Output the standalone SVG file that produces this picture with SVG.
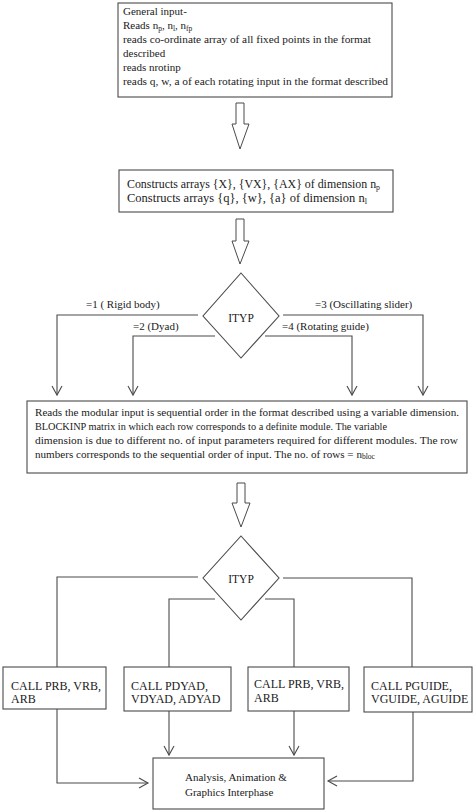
<svg xmlns="http://www.w3.org/2000/svg" width="474" height="812" viewBox="0 0 474 812">
<style>
.box{fill:#fff;stroke:#4a4a4a;stroke-width:1.1}
.ha{fill:#fff;stroke:#4a4a4a;stroke-width:1}
.ln{fill:none;stroke:#4a4a4a;stroke-width:1.1}
.t,.s,.m,.b{font-family:"Liberation Serif","Times New Roman",serif;fill:#1a1a1a}
.t{font-size:11px}
.m{font-size:11.5px}
.s{font-size:12px}
.sub{font-size:7.5px}
</style>
<defs>
<marker id="ah" markerUnits="userSpaceOnUse" markerWidth="12" markerHeight="12" viewBox="-10 -6 12 12" refX="0" refY="0" orient="auto" overflow="visible">
<path d="M-9,-5 L0,0 L-9,5" fill="none" stroke="#4a4a4a" stroke-width="1.1"/>
</marker>
</defs>
<rect width="474" height="812" fill="#fff"/>

<g id="general-input">
<rect class="box" x="118" y="3" width="274" height="94"/>
<text class="t" x="123" y="15">General input-</text>
<text class="t" x="123" y="29">Reads n<tspan class="sub" dy="2">p</tspan><tspan dy="-2">, n</tspan><tspan class="sub" dy="2">l</tspan><tspan dy="-2">, n</tspan><tspan class="sub" dy="2">fp</tspan></text>
<text class="t" x="123" y="43" textLength="248" lengthAdjust="spacingAndGlyphs">reads co-ordinate array of all fixed points in the format</text>
<text class="t" x="123" y="57">described</text>
<text class="t" x="123" y="71">reads nrotinp</text>
<text class="t" x="123" y="85" textLength="265" lengthAdjust="spacingAndGlyphs">reads q, w, a of each rotating input in the format described</text>
</g>

<g id="arrow-1"><polygon class="ha" points="236,103 244,103 244,124 249,124 240,149 232,124 236,124"/></g>

<g id="construct-arrays">
<rect class="box" x="119" y="170" width="274" height="42"/>
<text class="m" x="127" y="188" textLength="253" lengthAdjust="spacingAndGlyphs">Constructs arrays {X}, {VX}, {AX} of dimension n<tspan class="sub" dy="2">p</tspan></text>
<text class="m" x="127" y="202" textLength="240" lengthAdjust="spacingAndGlyphs">Constructs arrays {q}, {w}, {a} of dimension n<tspan class="sub" dy="2">l</tspan></text>
</g>

<g id="arrow-2"><polygon class="ha" points="236,219 244,219 244,241 249,241 240,264 232,241 236,241"/></g>

<g id="ityp-1">
<polygon class="box" points="241,273 279,316 241,358 203,316"/>
<text class="m" x="241" y="322" text-anchor="middle">ITYP</text>
</g>

<g id="modular-input">
<rect class="box" x="27" y="401" width="440" height="72"/>
<text class="t" x="35" y="416" textLength="424" lengthAdjust="spacingAndGlyphs">Reads the modular input is sequential order in the format described using a variable dimension.</text>
<text class="t" x="35" y="430" textLength="352" lengthAdjust="spacingAndGlyphs">BLOCKINP matrix in which each row corresponds to a definite module. The variable</text>
<text class="t" x="35" y="444" textLength="423" lengthAdjust="spacingAndGlyphs">dimension is due to different no. of input parameters required for different modules. The row</text>
<text class="t" x="35" y="458" textLength="340" lengthAdjust="spacingAndGlyphs">numbers corresponds to the sequential order of input. The no. of rows = n<tspan class="sub" dy="1">bloc</tspan></text>
</g>

<g id="arrow-3"><polygon class="ha" points="237,483 245,483 245,503 250,503 241,527 232,503 237,503"/></g>

<g id="ityp-2">
<polygon class="box" points="241,536 279,578 241,620 203,578"/>
<text class="m" x="241" y="583" text-anchor="middle">ITYP</text>
</g>

<g id="call-1">
<rect class="box" x="3" y="667" width="103" height="42"/>
<text class="s" x="11" y="690">CALL PRB, VRB,</text>
<text class="s" x="11" y="703">ARB</text>
</g>
<g id="call-2">
<rect class="box" x="124" y="667" width="107" height="44"/>
<text class="s" x="131" y="690">CALL PDYAD,</text>
<text class="s" x="131" y="703">VDYAD, ADYAD</text>
</g>
<g id="call-3">
<rect class="box" x="248" y="667" width="101" height="44"/>
<text class="s" x="254" y="688">CALL PRB, VRB,</text>
<text class="s" x="254" y="702">ARB</text>
</g>
<g id="call-4">
<rect class="box" x="364" y="667" width="108" height="45"/>
<text class="s" x="371" y="690">CALL PGUIDE,</text>
<text class="s" x="371" y="703">VGUIDE, AGUIDE</text>
</g>

<g id="analysis">
<rect class="box" x="153" y="758" width="171" height="51"/>
<text class="t" x="185" y="781">Analysis, Animation &amp;</text>
<text class="t" x="185" y="796">Graphics Interphase</text>
</g>

<g id="connectors">
<polyline class="ln" points="198,315 57,315 57,395" marker-end="url(#ah)"/>
<polyline class="ln" points="215,336 133,336 133,395" marker-end="url(#ah)"/>
<polyline class="ln" points="265,336 352,336 352,395" marker-end="url(#ah)"/>
<polyline class="ln" points="283,315 423,315 423,395" marker-end="url(#ah)"/>
<text class="t" x="86" y="308">=1 ( Rigid body)</text>
<text class="t" x="133" y="330">=2 (Dyad)</text>
<text class="t" x="315" y="308">=3 (Oscillating slider)</text>
<text class="t" x="282" y="330">=4 (Rotating guide)</text>

<polyline class="ln" points="198,577 57,577 57,667"/>
<polyline class="ln" points="215,599 169,599 169,667"/>
<polyline class="ln" points="265,599 294,599 294,667"/>
<polyline class="ln" points="283,578 412,578 412,667"/>

<polyline class="ln" points="57,709 57,783 148,783" marker-end="url(#ah)"/>
<polyline class="ln" points="169,711 169,755" marker-end="url(#ah)"/>
<polyline class="ln" points="294,711 294,755" marker-end="url(#ah)"/>
<polyline class="ln" points="413,712 413,781 328,781" marker-end="url(#ah)"/>
</g>
</svg>
